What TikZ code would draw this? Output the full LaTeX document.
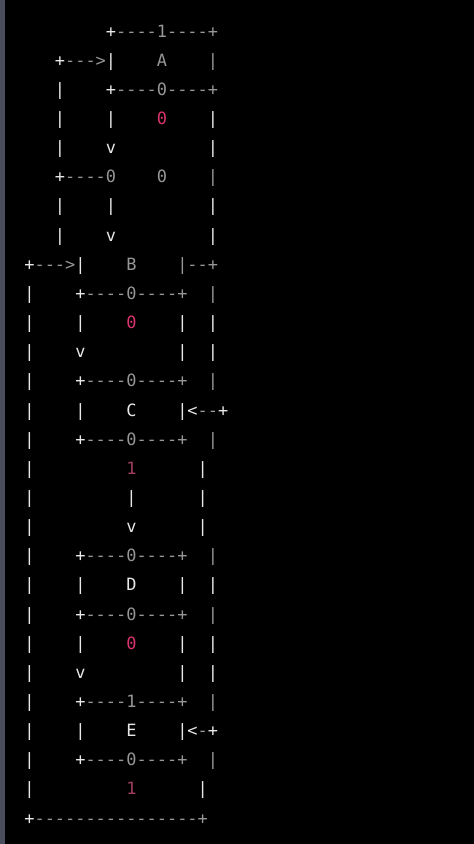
\documentclass[tikz,border=0pt]{standalone}
\usepackage{fontspec}
\setmonofont{DejaVu Sans Mono}
\usepackage{tikz}

\definecolor{wht}{RGB}{232,232,232}
\definecolor{gry}{RGB}{150,150,150}
\definecolor{pnk}{RGB}{217,52,110}
\definecolor{drd}{RGB}{160,62,94}
\definecolor{barcol}{RGB}{74,78,92}

\newcommand{\wh}[1]{\textcolor{wht}{#1}}
\newcommand{\gr}[1]{\textcolor{gry}{#1}}
\newcommand{\pk}[1]{\textcolor{pnk}{#1}}
\newcommand{\rd}[1]{\textcolor{drd}{#1}}

\begin{document}
\begin{tikzpicture}[x=0.75pt,y=0.75pt,yscale=-1,xscale=1,
    asciirow/.style={anchor=base west, inner sep=0pt, text=wht,
        font=\ttfamily\fontsize{12.7}{15}\selectfont}]

    % background and code block bar
    \fill[black] (0,0) rectangle (474,844);
    \useasboundingbox (0,0) rectangle (474,844);
    \fill[barcol] (0,0) rectangle (4.5,844);

    % rows of the ascii chart
    \node[asciirow] (r0)  at (24.1,37)    {\ \ \ \ \ \ \ \ \wh{+}\gr{----1----+}};
    \node[asciirow] (r1)  at (24.1,66.2)  {\ \ \ \wh{+}\gr{--->}\wh{|}\ \ \ \ \gr{A}\ \ \ \ \gr{|}};
    \node[asciirow] (r2)  at (24.1,95.3)  {\ \ \ \wh{|}\ \ \ \ \wh{+}\gr{----0----+}};
    \node[asciirow] (r3)  at (24.1,124.5) {\ \ \ \wh{|}\ \ \ \ \wh{|}\ \ \ \ \pk{0}\ \ \ \ \wh{|}};
    \node[asciirow] (r4)  at (24.1,153.6) {\ \ \ \wh{|}\ \ \ \ \wh{v}\ \ \ \ \ \ \ \ \ \wh{|}};
    \node[asciirow] (r5)  at (24.1,182.8) {\ \ \ \wh{+}\gr{----0}\ \ \ \ \gr{0}\ \ \ \ \gr{|}};
    \node[asciirow] (r6)  at (24.1,211.9) {\ \ \ \wh{|}\ \ \ \ \wh{|}\ \ \ \ \ \ \ \ \ \wh{|}};
    \node[asciirow] (r7)  at (24.1,241.1) {\ \ \ \wh{|}\ \ \ \ \wh{v}\ \ \ \ \ \ \ \ \ \wh{|}};
    \node[asciirow] (r8)  at (24.1,270.2) {\wh{+}\gr{--->}\wh{|}\ \ \ \ \gr{B}\ \ \ \ \gr{|--+}};
    \node[asciirow] (r9)  at (24.1,299.4) {\wh{|}\ \ \ \ \wh{+}\gr{----0----+}\ \ \gr{|}};
    \node[asciirow] (r10) at (24.1,328.5) {\wh{|}\ \ \ \ \wh{|}\ \ \ \ \pk{0}\ \ \ \ \wh{|}\ \ \wh{|}};
    \node[asciirow] (r11) at (24.1,357.7) {\wh{|}\ \ \ \ \wh{v}\ \ \ \ \ \ \ \ \ \wh{|}\ \ \wh{|}};
    \node[asciirow] (r12) at (24.1,386.8) {\wh{|}\ \ \ \ \wh{+}\gr{----0----+}\ \ \gr{|}};
    \node[asciirow] (r13) at (24.1,416)   {\wh{|}\ \ \ \ \wh{|}\ \ \ \ \wh{C}\ \ \ \ \wh{|<}\gr{--}\wh{+}};
    \node[asciirow] (r14) at (24.1,445.1) {\wh{|}\ \ \ \ \wh{+}\gr{----0----+}\ \ \gr{|}};
    \node[asciirow] (r15) at (24.1,474.3) {\wh{|}\ \ \ \ \ \ \ \ \ \rd{1}\ \ \ \ \ \ \wh{|}};
    \node[asciirow] (r16) at (24.1,503.4) {\wh{|}\ \ \ \ \ \ \ \ \ \wh{|}\ \ \ \ \ \ \wh{|}};
    \node[asciirow] (r17) at (24.1,532.6) {\wh{|}\ \ \ \ \ \ \ \ \ \wh{v}\ \ \ \ \ \ \wh{|}};
    \node[asciirow] (r18) at (24.1,561.7) {\wh{|}\ \ \ \ \wh{+}\gr{----0----+}\ \ \gr{|}};
    \node[asciirow] (r19) at (24.1,590.9) {\wh{|}\ \ \ \ \wh{|}\ \ \ \ \wh{D}\ \ \ \ \wh{|}\ \ \wh{|}};
    \node[asciirow] (r20) at (24.1,620)   {\wh{|}\ \ \ \ \wh{+}\gr{----0----+}\ \ \gr{|}};
    \node[asciirow] (r21) at (24.1,649.2) {\wh{|}\ \ \ \ \wh{|}\ \ \ \ \pk{0}\ \ \ \ \wh{|}\ \ \wh{|}};
    \node[asciirow] (r22) at (24.1,678.3) {\wh{|}\ \ \ \ \wh{v}\ \ \ \ \ \ \ \ \ \wh{|}\ \ \wh{|}};
    \node[asciirow] (r23) at (24.1,707.5) {\wh{|}\ \ \ \ \wh{+}\gr{----1----+}\ \ \gr{|}};
    \node[asciirow] (r24) at (24.1,736.6) {\wh{|}\ \ \ \ \wh{|}\ \ \ \ \wh{E}\ \ \ \ \wh{|<}\gr{-}\wh{+}};
    \node[asciirow] (r25) at (24.1,765.8) {\wh{|}\ \ \ \ \wh{+}\gr{----0----+}\ \ \gr{|}};
    \node[asciirow] (r26) at (24.1,794.9) {\wh{|}\ \ \ \ \ \ \ \ \ \rd{1}\ \ \ \ \ \ \wh{|}};
    \node[asciirow] (r27) at (24.1,824.1) {\wh{+}\gr{----------------+}};

\end{tikzpicture}
\end{document}
